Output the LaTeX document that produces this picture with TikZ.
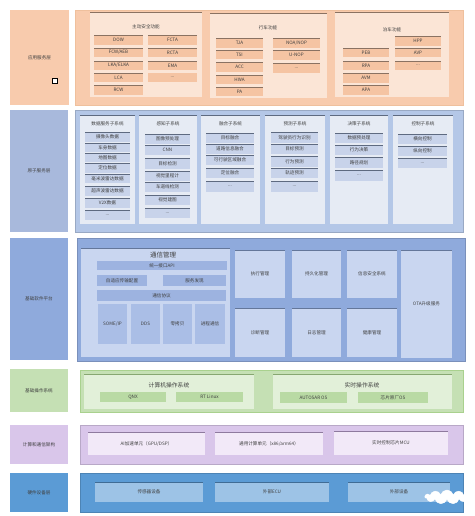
\documentclass[tikz,border=0pt]{standalone}
\usepackage{fontspec}
\setmainfont{Noto Sans CJK SC}
\usetikzlibrary{shapes.symbols}
\definecolor{txt}{HTML}{404040}
\definecolor{oA}{HTML}{F8CBAD}
\definecolor{oB}{HTML}{FBE5D6}
\definecolor{oC}{HTML}{F5C4A3}
\definecolor{oS}{HTML}{8A7262}
\definecolor{bA}{HTML}{A8B9DC}
\definecolor{bO}{HTML}{B4C7E7}
\definecolor{bB}{HTML}{E6EBF4}
\definecolor{bC}{HTML}{C8D3EA}
\definecolor{bS}{HTML}{5E6A80}
\definecolor{cA}{HTML}{8FAADC}
\definecolor{cB}{HTML}{C9D6F0}
\definecolor{cC}{HTML}{9DB3E0}
\definecolor{cD}{HTML}{AABEE6}
\definecolor{gA}{HTML}{C5E0B4}
\definecolor{gE}{HTML}{A9D18E}
\definecolor{gB}{HTML}{E2F0D9}
\definecolor{gC}{HTML}{B9DAA4}
\definecolor{pA}{HTML}{D9C6EA}
\definecolor{pB}{HTML}{F2E9F8}
\definecolor{pS}{HTML}{8E7A9E}
\definecolor{dA}{HTML}{5B9BD5}
\definecolor{dB}{HTML}{9DC3E6}
\newcommand\fs{\fontsize{4.6}{5.2}\selectfont}
\newcommand\BX[7]{\node[#2, minimum width={(#5)-(#3)}, minimum height={(#6)-(#4)}] (#1) at ({((#3)+(#5))/2},{((#4)+(#6))/2}) {#7};}
\tikzset{
  base/.style={inner sep=0pt, outer sep=0pt, font=\fs, text=txt, align=center},
  lab/.style={base, fill=#1},
  outer/.style 2 args={base, fill=#1, draw=#2, line width=0.8pt},
  pnl/.style 2 args={base, fill=#1, path picture={\fill[#2] (path picture bounding box.north west) rectangle ([yshift=-1.3pt]path picture bounding box.north east);}},
  itm/.style 2 args={base, fill=#1, path picture={\fill[#2] (path picture bounding box.north west) rectangle ([yshift=-1.3pt]path picture bounding box.north east);}},
  ttl/.style={base, font=\fs},
}
\begin{document}
\begin{tikzpicture}[x=1pt,y=-1pt]
\useasboundingbox[fill=white] (0,0) rectangle (474,516);
% ===== Row 1 =====
\BX{L1}{lab=oA}{10}{10}{69}{105}{应用服务层}
\node[base, draw=black, fill=white, line width=0.8pt, minimum size=4.5pt] (ic) at (55,81) {};
\BX{O1}{outer={oA}{oA!85!brown}}{75}{10}{463}{105}{}
\BX{P11}{pnl={oB}{oS}}{90}{12}{202}{97}{}
\BX{P12}{pnl={oB}{oS}}{210}{13}{327}{98}{}
\BX{P13}{pnl={oB}{oS}}{335}{12}{449}{97}{}
\node[ttl] (T11) at (146,27) {主动安全功能};
\node[ttl] (T12) at (268,28) {行车功能};
\node[ttl] (T13) at (392,30) {泊车功能};
\BX{a1}{itm={oC}{oS}}{94}{35}{143}{45}{DOW}
\BX{a2}{itm={oC}{oS}}{94}{48}{143}{57}{FCW/AEB}
\BX{a3}{itm={oC}{oS}}{94}{61}{143}{70}{LKA/ELKA}
\BX{a4}{itm={oC}{oS}}{94}{73}{143}{82}{LCA}
\BX{a5}{itm={oC}{oS}}{94}{85}{143}{95}{RCW}
\BX{a6}{itm={oC}{oS}}{148}{35}{197}{45}{FCTA}
\BX{a7}{itm={oC}{oS}}{148}{48}{197}{57}{RCTA}
\BX{a8}{itm={oC}{oS}}{148}{61}{197}{70}{EMA}
\BX{a9}{itm={oC}{oC}}{148}{73}{197}{82}{...}
\BX{b1}{itm={oC}{oS}}{216}{38}{263}{48}{TJA}
\BX{b2}{itm={oC}{oS}}{216}{50}{263}{59}{TSI}
\BX{b3}{itm={oC}{oS}}{216}{62}{263}{72}{ACC}
\BX{b4}{itm={oC}{oS}}{216}{75}{263}{84}{HWA}
\BX{b5}{itm={oC}{oS}}{216}{87}{263}{96}{PA}
\BX{b6}{itm={oC}{oS}}{273}{38}{320}{48}{NOA/NOP}
\BX{b7}{itm={oC}{oS}}{273}{50}{320}{60}{U-NOP}
\BX{b8}{itm={oC}{oS}}{273}{63}{320}{73}{...}
\BX{c1}{itm={oC}{oS}}{343}{48}{389}{57}{PEB}
\BX{c2}{itm={oC}{oS}}{343}{61}{389}{70}{RPA}
\BX{c3}{itm={oC}{oS}}{343}{73}{389}{83}{AVM}
\BX{c4}{itm={oC}{oS}}{343}{85}{389}{95}{APA}
\BX{c5}{itm={oC}{oS}}{395}{36}{441}{46}{HPP}
\BX{c6}{itm={oC}{oS}}{395}{48}{441}{57}{AVP}
\BX{c7}{itm={oC}{oS}}{395}{61}{441}{70}{...}
% ===== Row 2 =====
\BX{L2}{lab=bA}{10}{110}{68}{232}{原子服务层}
\BX{O2}{outer={bO}{bO!85!black}}{75}{110}{463}{232}{}
\BX{Q1}{pnl={bB}{bS}}{80}{115}{135}{224}{}
\BX{Q2}{pnl={bB}{bS}}{139}{115}{197}{224}{}
\BX{Q3}{pnl={bB}{bS}}{201}{115}{260}{224}{}
\BX{Q4}{pnl={bB}{bS}}{265}{115}{325}{224}{}
\BX{Q5}{pnl={bB}{bS}}{330}{115}{388}{224}{}
\BX{Q6}{pnl={bB}{bS}}{393}{115}{453}{224}{}
\node[ttl] (U1) at (107.5,124) {数据服务子系统};
\node[ttl] (U2) at (168,124) {感知子系统};
\node[ttl] (U3) at (230.5,124) {融合子系统};
\node[ttl] (U4) at (295,124) {预测子系统};
\node[ttl] (U5) at (359,124) {决策子系统};
\node[ttl] (U6) at (423,124) {控制子系统};
\BX{d1}{itm={bC}{bS}}{85}{132}{130}{142}{摄像头数据}
\BX{d2}{itm={bC}{bS}}{85}{143}{130}{152}{车身数据}
\BX{d3}{itm={bC}{bS}}{85}{153}{130}{162}{地图数据}
\BX{d4}{itm={bC}{bS}}{85}{163}{130}{173}{定位数据}
\BX{d5}{itm={bC}{bS}}{85}{174}{130}{183}{毫米波雷达数据}
\BX{d6}{itm={bC}{bS}}{85}{186}{130}{196}{超声波雷达数据}
\BX{d7}{itm={bC}{bS}}{85}{198}{130}{208}{V2X数据}
\BX{d8}{itm={bC}{bS}}{85}{210}{130}{220}{...}
\BX{e1}{itm={bC}{bS}}{145}{134}{190}{144}{图像预处理}
\BX{e2}{itm={bC}{bS}}{145}{145}{190}{155}{CNN}
\BX{e3}{itm={bC}{bS}}{145}{158}{190}{169}{目标检测}
\BX{e4}{itm={bC}{bS}}{145}{171}{190}{181}{视觉里程计}
\BX{e5}{itm={bC}{bS}}{145}{182}{190}{192}{车道线检测}
\BX{e6}{itm={bC}{bS}}{145}{195}{190}{205}{视觉建图}
\BX{e7}{itm={bC}{bS}}{145}{208}{190}{218}{...}
\BX{f1}{itm={bC}{bS}}{206}{133}{254}{143}{目标融合}
\BX{f2}{itm={bC}{bS}}{206}{144}{254}{154}{道路信息融合}
\BX{f3}{itm={bC}{bS}}{206}{155}{254}{165}{可行驶区域融合}
\BX{f4}{itm={bC}{bS}}{206}{168}{254}{178}{定位融合}
\BX{f5}{itm={bC}{bS}}{206}{181}{254}{192}{...}
\BX{g1}{itm={bC}{bS}}{271}{132}{318}{143}{驾驶员行为识别}
\BX{g2}{itm={bC}{bS}}{271}{144}{318}{154}{目标预测}
\BX{g3}{itm={bC}{bS}}{271}{156}{318}{167}{行为预测}
\BX{g4}{itm={bC}{bS}}{271}{168}{318}{178}{轨迹预测}
\BX{g5}{itm={bC}{bS}}{271}{181}{318}{192}{...}
\BX{h1}{itm={bC}{bS}}{335}{133}{383}{143}{数据预处理}
\BX{h2}{itm={bC}{bS}}{335}{145}{383}{155}{行为决策}
\BX{h3}{itm={bC}{bS}}{335}{157}{383}{168}{路径规划}
\BX{h4}{itm={bC}{bS}}{335}{170}{383}{181}{...}
\BX{k1}{itm={bC}{bS}}{398}{134}{447}{144}{横向控制}
\BX{k2}{itm={bC}{bS}}{398}{146}{447}{156}{纵向控制}
\BX{k3}{itm={bC}{bS}}{398}{158}{447}{168}{...}
% ===== Row 3 =====
\BX{L3}{lab=cA}{10}{238}{68}{360}{基础软件平台}
\BX{O3}{outer={cA}{cA!85!black}}{77}{238}{465}{361}{}
\BX{M0}{pnl={cB}{cA!70!black}}{81}{248}{230}{357}{}
\node[base, font=\fontsize{6.5}{7}\selectfont] (MT) at (163,255) {通信管理};
\BX{m1}{lab=cC}{97}{261}{227}{270}{统一接口API}
\BX{m2}{lab=cC}{97}{275}{147}{286}{自适应传输配置}
\BX{m3}{lab=cC}{163}{275}{226}{286}{服务发现}
\BX{m4}{lab=cC}{97}{290}{226}{301}{通信协议}
\BX{m5}{lab=cD}{98}{304}{127}{344}{SOME/IP}
\BX{m6}{lab=cD}{131}{304}{160}{344}{DDS}
\BX{m7}{lab=cD}{163}{304}{192}{344}{零拷贝}
\BX{m8}{lab=cD}{195}{304}{225}{344}{进程通信}
\BX{n1}{pnl={cB}{cA!70!black}}{235}{250}{285}{298}{执行管理}
\BX{n2}{pnl={cB}{cA!70!black}}{292}{250}{341}{298}{持久化管理}
\BX{n3}{pnl={cB}{cA!70!black}}{347}{250}{397}{298}{信息安全系统}
\BX{n4}{pnl={cB}{cA!70!black}}{235}{308}{285}{357}{诊断管理}
\BX{n5}{pnl={cB}{cA!70!black}}{292}{308}{341}{357}{日志管理}
\BX{n6}{pnl={cB}{cA!70!black}}{347}{308}{397}{357}{健康管理}
\BX{n7}{pnl={cB}{cA!70!black}}{401}{250}{452}{358}{OTA升级服务}
% ===== Row 4 =====
\BX{L4}{lab=gA}{10}{369}{68}{412}{基础操作系统}
\BX{O4}{outer={gA}{gE}}{80}{370}{463}{412}{}
\BX{R1}{pnl={gB}{gE!80!black}}{84}{374}{254}{409}{}
\BX{R2}{pnl={gB}{gE!80!black}}{273}{374}{452}{409}{}
\node[base, font=\fontsize{5.8}{6}\selectfont] (RT1) at (169,385) {计算机操作系统};
\node[base, font=\fontsize{5.8}{6}\selectfont] (RT2) at (362,385) {实时操作系统};
\BX{r1}{lab=gC}{100}{392}{166}{402}{QNX}
\BX{r2}{lab=gC}{176}{392}{243}{402}{RT Linux}
\BX{r3}{lab=gC}{280}{392}{347}{403}{AUTOSAR OS}
\BX{r4}{lab=gC}{358}{392}{428}{403}{芯片原厂OS}
% ===== Row 5 =====
\BX{L5}{lab=pA}{10}{425}{68}{464}{计算和通信架构}
\BX{O5}{outer={pA}{pA!85!black}}{80}{425}{463}{464}{}
\BX{s1}{pnl={pB}{pS}}{88}{432}{205}{455}{AI加速单元（GPU/DSP）}
\BX{s2}{pnl={pB}{pS}}{215}{432}{323}{455}{通用计算单元（x86/arm64）}
\BX{s3}{pnl={pB}{pS}}{334}{431}{448}{455}{实时控制芯片MCU}
% ===== Row 6 =====
\BX{L6}{lab=dA}{10}{473}{68}{512}{硬件设备层}
\BX{O6}{outer={dA}{dA!85!black}}{80}{473}{463}{512}{}
\BX{t1}{pnl={dB}{dA!70!black}}{95}{482}{203}{502}{传感器设备}
\BX{t2}{pnl={dB}{dA!70!black}}{215}{482}{329}{502}{外部ECU}
\BX{t3}{pnl={dB}{dA!70!black}}{348}{482}{450}{502}{外部设备}
\node[cloud, cloud puffs=11, fill=white, draw=white, minimum width=44pt, minimum height=14pt, inner sep=0pt] (cl) at (447,497) {};
\end{tikzpicture}
\end{document}
